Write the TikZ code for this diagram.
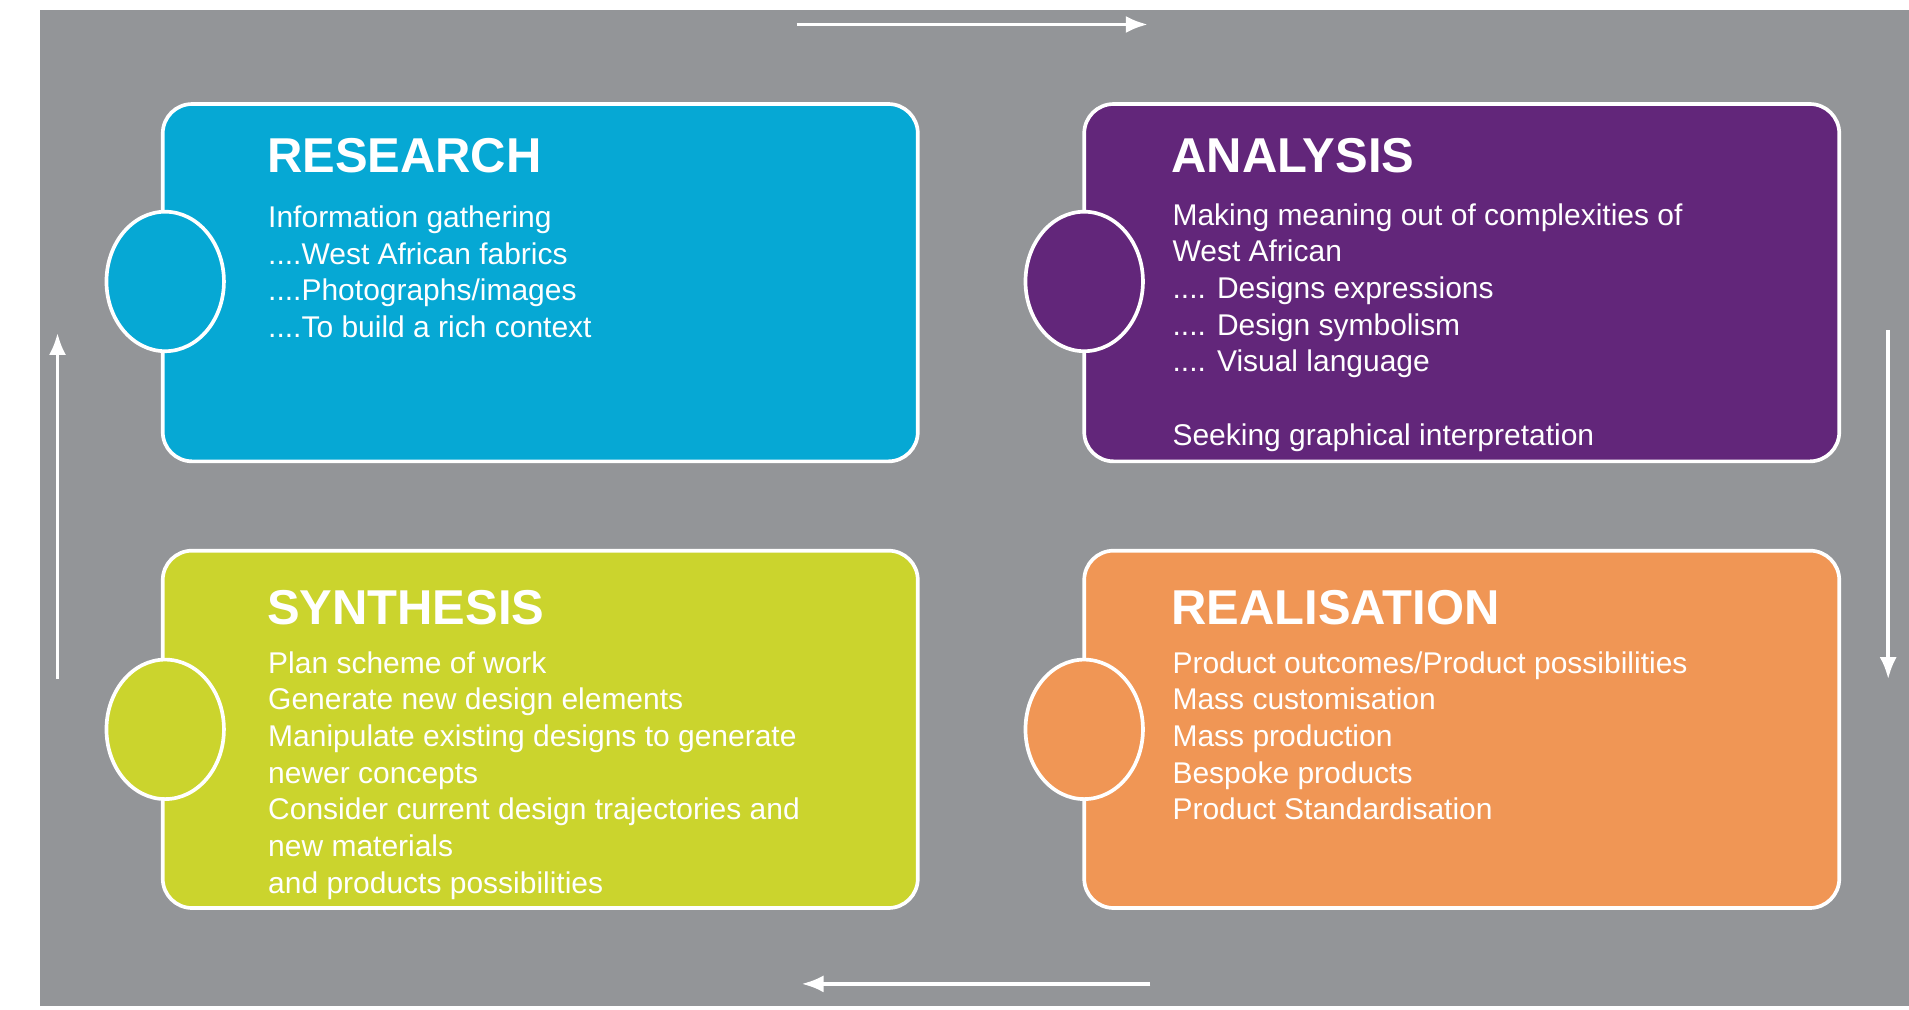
\documentclass[tikz,border=0pt]{standalone}
\usepackage{fontspec}
\setmainfont{Liberation Sans}
\begin{document}
\begin{tikzpicture}[x=1pt,y=-1pt,
  card/.style={draw=white,line width=3pt,rounded corners=24pt},
  knob/.style={draw=white,line width=3pt,ellipse,minimum width=96pt,minimum height=114pt,inner sep=0pt},
  ttl/.style={anchor=base west,inner sep=0pt,text=white,font=\fontsize{40}{40}\selectfont\bfseries},
  body/.style={anchor=north west,inner sep=0pt,text=white,align=left,font=\fontsize{24.5}{30}\selectfont},
  flow/.style={draw=white,line width=3pt,-{Latex[length=18pt,width=14pt]}}]
\usetikzlibrary{arrows.meta,shapes.geometric}
\useasboundingbox (0,0) rectangle (1560,825);
\fill[white] (0,0) rectangle (1560,825);
\fill[gray!80!black!60!white,fill={rgb,255:red,147;green,149;blue,152}] (33,8) rectangle (1560,822);
\definecolor{cres}{RGB}{6,168,212}
\definecolor{cana}{RGB}{98,38,122}
\definecolor{csyn}{RGB}{203,212,45}
\definecolor{crea}{RGB}{240,150,85}
\filldraw[card,fill=cres] (133,85) rectangle (750,377);
\filldraw[card,fill=cana] (886,85) rectangle (1503,377);
\filldraw[card,fill=csyn] (133,450) rectangle (750,742);
\filldraw[card,fill=crea] (886,450) rectangle (1503,742);
\node[knob,fill=cres] (k1) at (135,230) {};
\node[knob,fill=cana] (k2) at (886,230) {};
\node[knob,fill=csyn] (k3) at (135,596) {};
\node[knob,fill=crea] (k4) at (886,596) {};
\node[ttl] (t1) at (218,141) {RESEARCH};
\node[ttl] (t2) at (957,141) {ANALYSIS};
\node[ttl] (t3) at (218,510) {SYNTHESIS};
\node[ttl] (t4) at (957,510) {REALISATION};
\node[body] (b1) at (219,168) {Information gathering\\....West African fabrics\\....Photographs/images\\....To build a rich context};
\node[body] (b2) at (958,166) {Making meaning out of complexities of\\West African\\.... Designs expressions\\.... Design symbolism\\.... Visual language\\[30pt]Seeking graphical interpretation};
\node[body] (b3) at (219,532) {Plan scheme of work\\Generate new design elements\\Manipulate existing designs to generate\\newer concepts\\Consider current design trajectories and\\new materials\\and products possibilities};
\node[body] (b4) at (958,532) {Product outcomes/Product possibilities\\Mass customisation\\Mass production\\Bespoke products\\Product Standardisation};
\coordinate (a1) at (651,20); \coordinate (a2) at (938,20);
\coordinate (a3) at (1543,270); \coordinate (a4) at (1543,555);
\coordinate (a5) at (940,804); \coordinate (a6) at (655,804);
\coordinate (a7) at (47,555); \coordinate (a8) at (47,272);
\draw[flow] (a1) -- (a2);
\draw[flow] (a3) -- (a4);
\draw[flow] (a5) -- (a6);
\draw[flow] (a7) -- (a8);
\end{tikzpicture}
\end{document}
